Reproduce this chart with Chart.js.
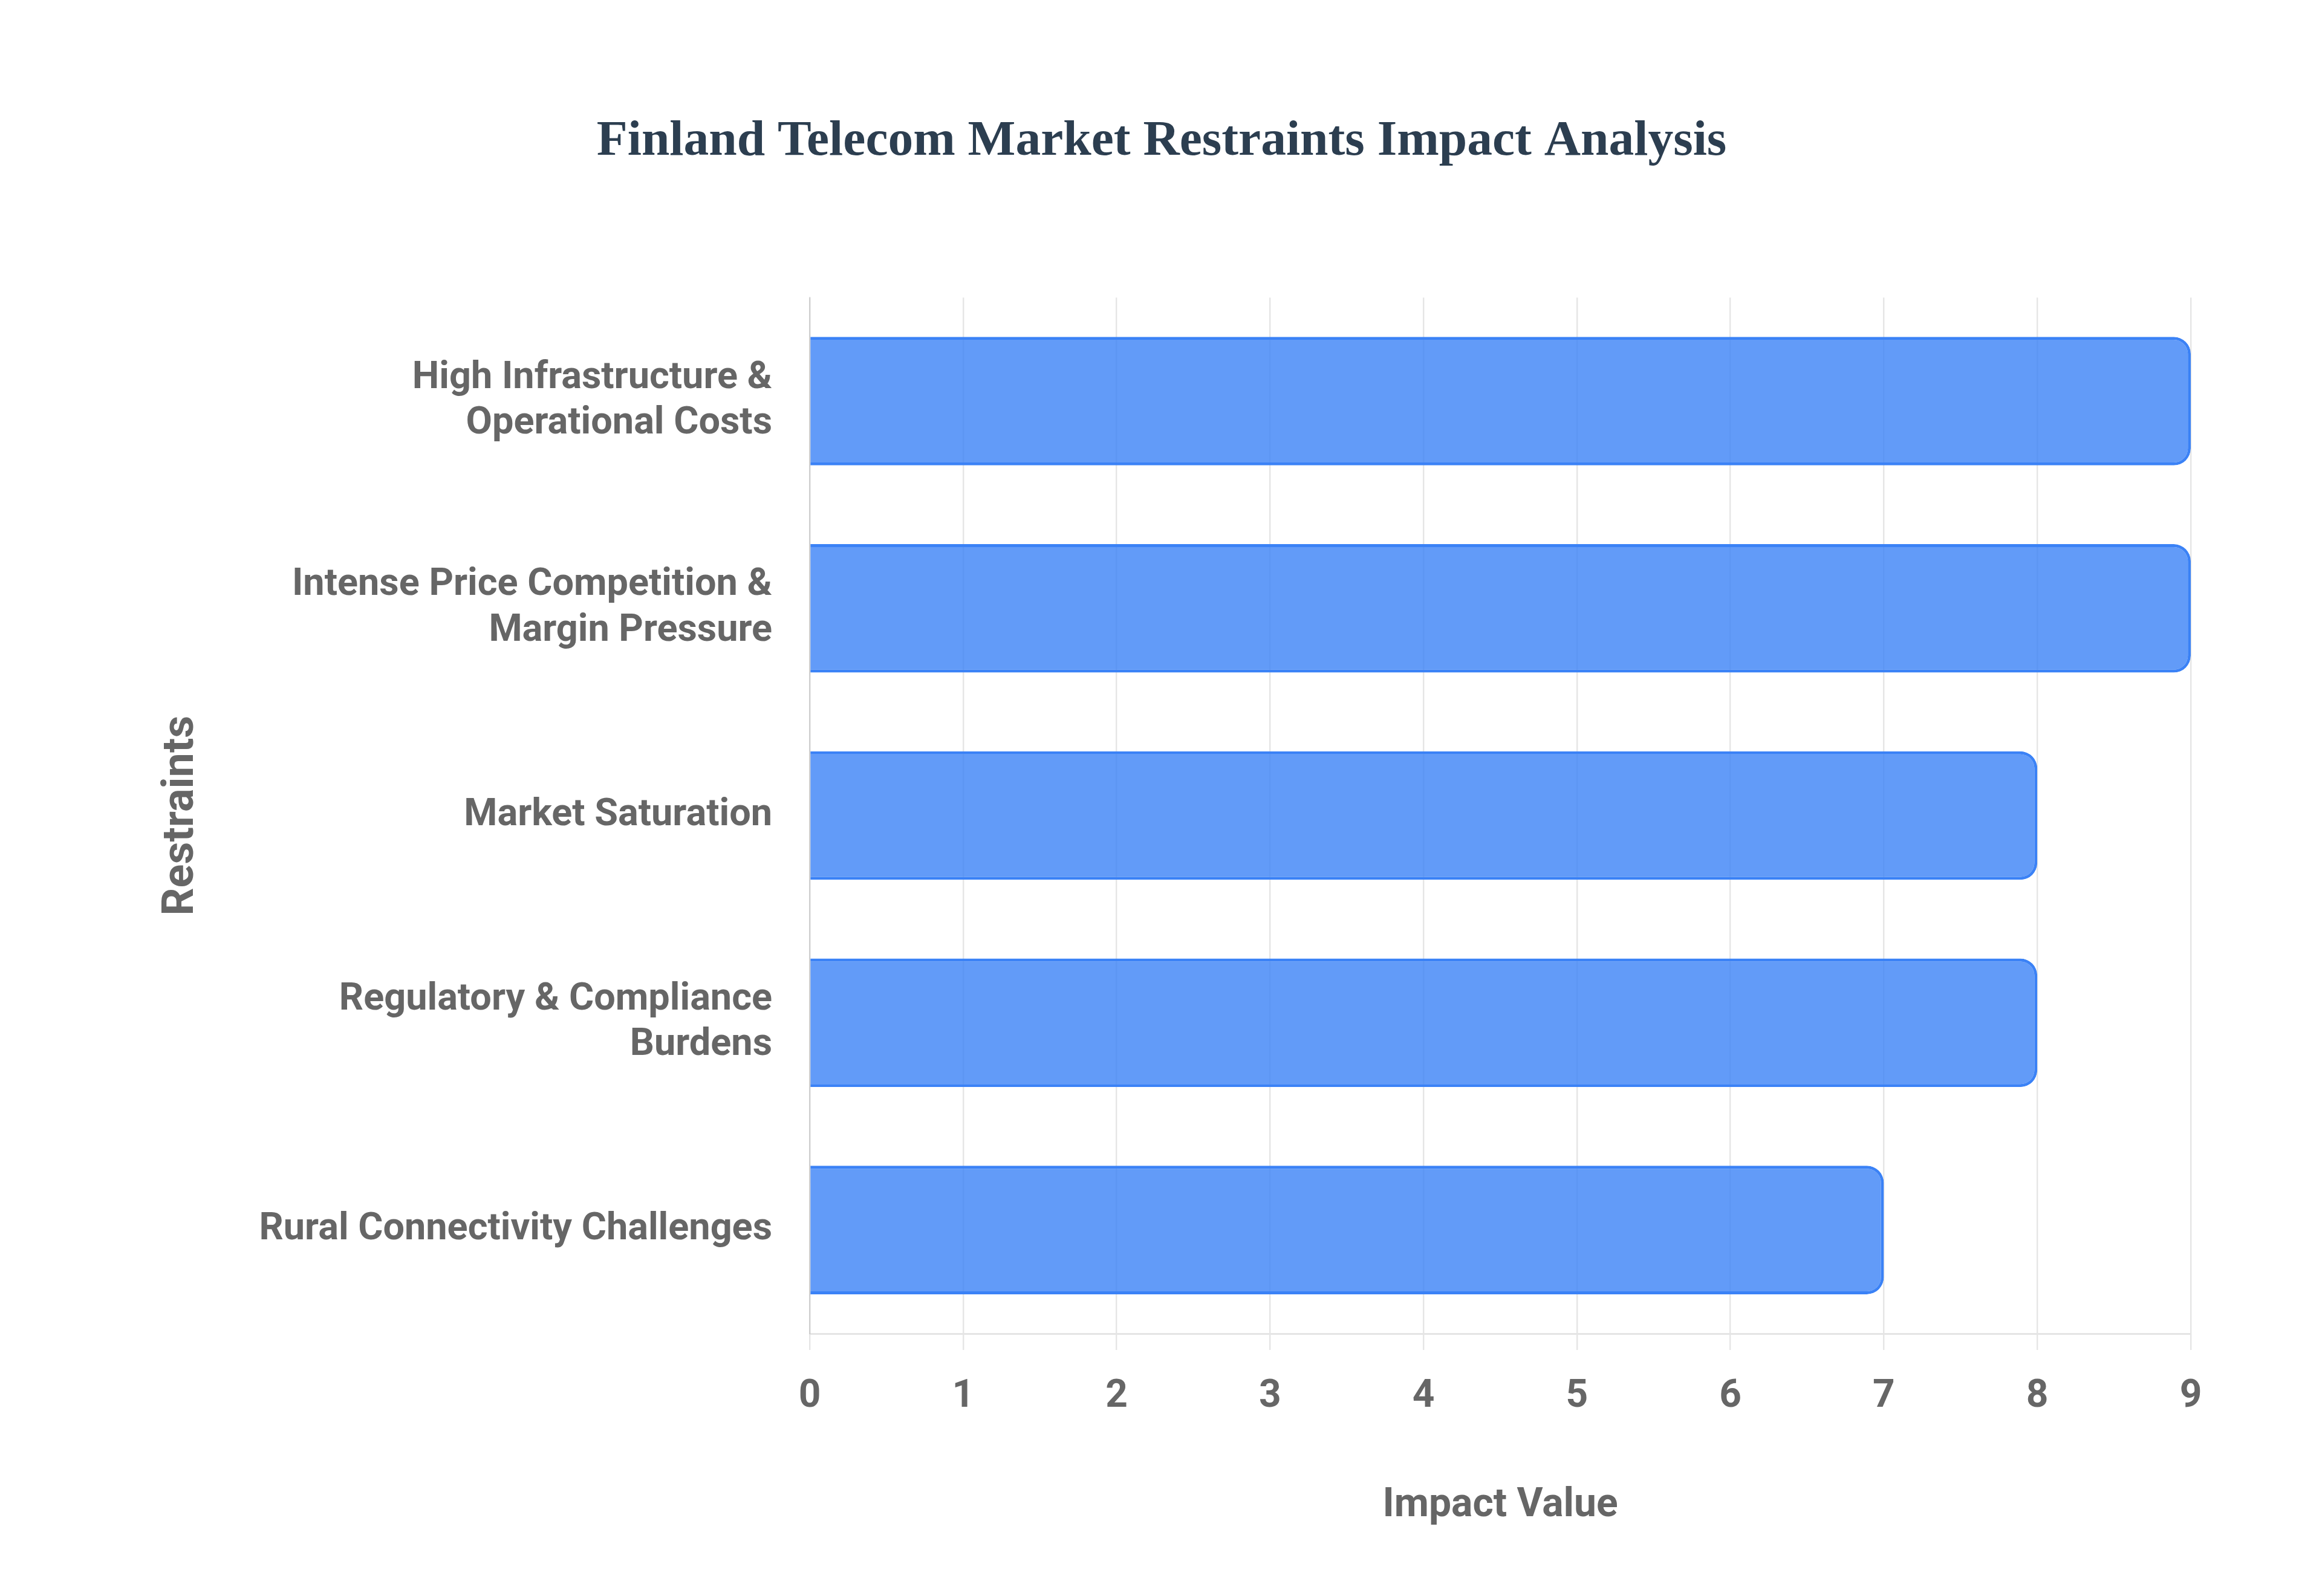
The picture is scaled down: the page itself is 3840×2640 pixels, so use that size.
<!DOCTYPE html>
<html>
<head>
<meta charset="utf-8">
<title>Finland Telecom Market Restraints Impact Analysis</title>
<script src="https://cdn.jsdelivr.net/npm/chart.js@4.4.1/dist/chart.umd.min.js"></script>
<style>
    html, body { margin: 0; padding: 0; background: #ffffff; }
    canvas { display: block; }
</style>
</head>
<body>
<canvas id="restraintsChart" width="3840" height="2640"></canvas>
<script>
/*
 * Horizontal bar chart of the restraints on the Finnish telecom market.
 * Long category names are split onto two lines like the original.
 */
const restraintLabels = [
    ['High Infrastructure &', 'Operational Costs'],
    ['Intense Price Competition &', 'Margin Pressure'],
    'Market Saturation',
    ['Regulatory & Compliance', 'Burdens'],
    'Rural Connectivity Challenges'
];
const impactValues = [9, 9, 8, 8, 7];
const impactTicks = [0, 1, 2, 3, 4, 5, 6, 7, 8, 9];

document.addEventListener('DOMContentLoaded', () => {
    const ctx = document.getElementById('restraintsChart').getContext('2d');
    const sans = 'Roboto, "Liberation Sans", Arial, sans-serif';

    new Chart(ctx, {
        type: 'bar',
        data: {
            labels: restraintLabels,
            datasets: [
                {
                    label: 'Impact Value',
                    data: impactValues,
                    backgroundColor: 'rgba(59, 130, 246, 0.8)',
                    borderColor: 'rgb(59, 130, 246)',
                    borderWidth: 4.8,
                    borderRadius: 28,
                    barPercentage: 0.775,
                    categoryPercentage: 0.8
                }
            ]
        },
        options: {
            indexAxis: 'y',
            responsive: false,
            devicePixelRatio: 1,
            animation: false,
            // left/right padding also sets where the centred title lands
            layout: { padding: { left: 219, right: 217, top: 0, bottom: 0 } },
            scales: {
                x: {
                    min: 0,
                    max: impactTicks[impactTicks.length - 1],
                    afterBuildTicks: (scale) => {
                        scale.ticks = impactTicks.map(v => ({ value: v }));
                    },
                    afterFit: (scale) => { scale.height = 434; },
                    ticks: {
                        color: '#666666',
                        padding: 40,
                        font: { family: sans, size: 64, weight: 'bold' }
                    },
                    grid: {
                        color: 'rgba(0, 0, 0, 0.1)',
                        lineWidth: 2.4,
                        tickLength: 27
                    },
                    border: { color: 'rgba(0, 0, 0, 0.1)', width: 3 },
                    title: {
                        display: true,
                        text: 'Impact Value',
                        color: '#666666',
                        padding: { top: 0, bottom: 109 },
                        font: { family: sans, size: 66, weight: 'bold' }
                    }
                },
                y: {
                    afterFit: (scale) => { scale.width = 1339 - 219; },
                    ticks: {
                        color: '#666666',
                        padding: 62,
                        font: { family: sans, size: 63, weight: 'bold' }
                    },
                    grid: { display: false, drawTicks: false },
                    border: { color: 'rgba(0, 0, 0, 0.1)', width: 2.4 },
                    title: {
                        display: true,
                        text: 'Restraints',
                        color: '#666666',
                        padding: { top: 39, bottom: 0 },
                        font: { family: sans, size: 72, weight: 'bold' }
                    }
                }
            },
            plugins: {
                legend: { display: false },
                tooltip: { enabled: false },
                title: {
                    display: true,
                    text: 'Finland Telecom Market Restraints Impact Analysis',
                    color: '#2c3e50',
                    padding: { top: 184, bottom: 208 },
                    font: { family: '"Liberation Serif", "Times New Roman", serif', size: 83.5, weight: 'bold' }
                }
            }
        }
    });
});
</script>
</body>
</html>
